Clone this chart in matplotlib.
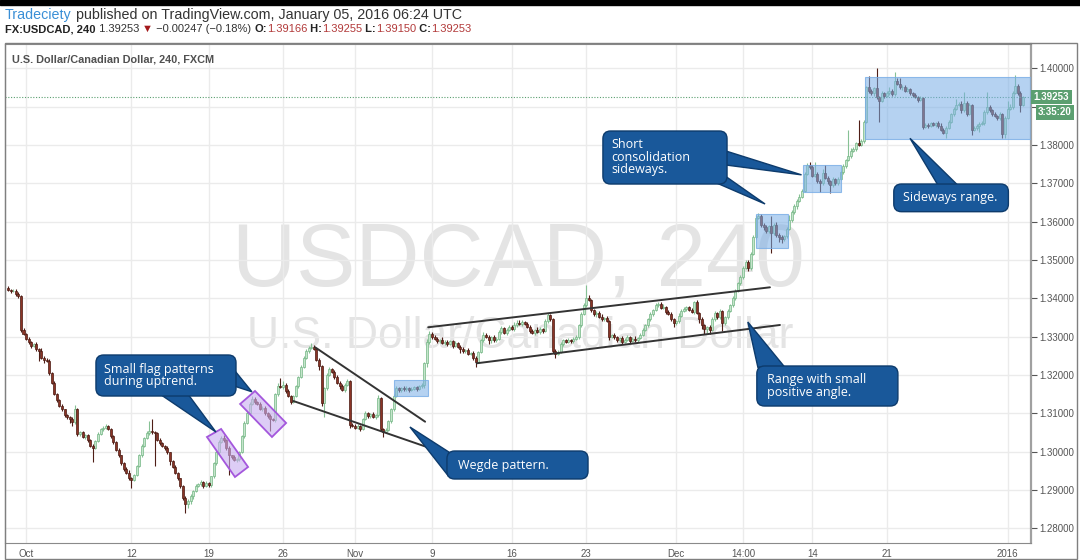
import numpy as np
import matplotlib
matplotlib.use("Agg")
import matplotlib.pyplot as plt
from matplotlib.patches import Polygon, Rectangle, FancyBboxPatch
from matplotlib.ticker import FuncFormatter

# USDCAD 4h candles, Oct 1 2015 - Jan 5 2016 (FXCM)
# closes in 1/10000 above 1.0 (3425 -> 1.3425); open = previous close
first_open = 3428
closes = [
    3422, 3418, 3420, 3410, 3405, 3318, 3308, 3295, 3285, 3275, 3280, 3268, 3262, 3245, 3240, 3236, 3205, 3180, 3150, 3135,
    3120, 3110, 3095, 3090, 3085, 3078, 3112, 3045, 3050, 3038, 3042, 3030, 3015, 3010, 3028, 3045, 3058, 3062, 3066, 3060,
    3040, 3025, 3005, 2990, 2970, 2955, 2945, 2930, 2925, 2940, 2962, 2990, 3015, 3035, 3048, 3055, 3050, 3048, 3030, 3022,
    3015, 3010, 2998, 2975, 2960, 2945, 2930, 2910, 2880, 2862, 2870, 2885, 2898, 2910, 2915, 2920, 2910, 2918, 2912, 2935,
    2970, 3000, 3025, 3035, 3030, 3010, 2990, 2985, 2978, 2980, 3000, 3040, 3075, 3100, 3125, 3138, 3130, 3125, 3112, 3115,
    3100, 3092, 3085, 3082, 3150, 3172, 3168, 3175, 3158, 3145, 3130, 3145, 3170, 3195, 3220, 3245, 3262, 3270, 3274, 3268,
    3240, 3222, 3128, 3165, 3200, 3215, 3208, 3195, 3180, 3170, 3160, 3175, 3185, 3070, 3068, 3062, 3066, 3060, 3085, 3100,
    3092, 3098, 3090, 3095, 3140, 3058, 3052, 3056, 3080, 3110, 3145, 3165, 3160, 3165, 3162, 3166, 3160, 3164, 3168, 3163,
    3170, 3175, 3230, 3285, 3308, 3300, 3295, 3288, 3292, 3283, 3286, 3280, 3288, 3276, 3282, 3272, 3268, 3262, 3265, 3255,
    3258, 3245, 3235, 3260, 3290, 3305, 3300, 3292, 3298, 3290, 3295, 3312, 3322, 3310, 3318, 3325, 3320, 3330, 3336, 3332,
    3338, 3334, 3325, 3315, 3310, 3318, 3312, 3320, 3315, 3340, 3356, 3345, 3262, 3255, 3260, 3280, 3290, 3286, 3292, 3288,
    3295, 3298, 3330, 3360, 3382, 3400, 3395, 3370, 3358, 3362, 3352, 3345, 3348, 3340, 3300, 3305, 3298, 3290, 3296, 3285,
    3292, 3298, 3288, 3295, 3290, 3296, 3305, 3318, 3330, 3345, 3358, 3370, 3382, 3385, 3375, 3378, 3365, 3360, 3345, 3335,
    3340, 3355, 3368, 3372, 3376, 3370, 3365, 3390, 3362, 3345, 3330, 3320, 3325, 3318, 3345, 3362, 3350, 3366, 3335, 3350,
    3368, 3382, 3400, 3420, 3440, 3455, 3480, 3495, 3478, 3515, 3560, 3610, 3615, 3590, 3585, 3575, 3588, 3570, 3592, 3565,
    3560, 3555, 3562, 3580, 3605, 3625, 3640, 3655, 3665, 3680, 3725, 3748, 3742, 3720, 3725, 3705, 3700, 3728, 3715, 3705,
    3695, 3710, 3700, 3712, 3730, 3745, 3760, 3770, 3785, 3790, 3805, 3800, 3810, 3860, 3950, 3940, 3935, 3948, 3925, 3915,
    3935, 3928, 3935, 3940, 3932, 3968, 3960, 3950, 3952, 3942, 3945, 3935, 3930, 3925, 3918, 3922, 3848, 3852, 3850, 3856,
    3853, 3858, 3850, 3840, 3832, 3845, 3860, 3880, 3895, 3905, 3908, 3890, 3910, 3880, 3905, 3840, 3845, 3850, 3855, 3858,
    3885, 3900, 3890, 3882, 3875, 3870, 3880, 3828, 3870, 3895, 3900, 3935, 3955, 3935, 3905, 3925,
]
# wick length beyond the body, same units
wick_hi = [
    4, 3, 5, 3, 6, 3, 4, 2, 5, 3, 4, 6, 3, 8, 4, 3, 5, 2, 4, 3,
    3, 5, 2, 4, 3, 6, 10, 2, 5, 3, 4, 3, 4, 4, 3, 5, 4, 6, 6, 3,
    2, 4, 3, 5, 2, 3, 4, 6, 3, 2, 3, 4, 5, 3, 6, 25, 30, 4, 3, 5,
    4, 3, 5, 2, 3, 4, 3, 2, 4, 3, 5, 4, 3, 6, 4, 5, 3, 4, 3, 2,
    3, 4, 5, 6, 8, 3, 4, 2, 5, 3, 2, 3, 4, 5, 5, 6, 4, 3, 5, 4,
    3, 4, 5, 2, 4, 6, 20, 10, 3, 4, 2, 3, 4, 3, 5, 4, 6, 5, 8, 4,
    3, 4, 5, 4, 6, 6, 3, 4, 5, 3, 6, 4, 5, 3, 4, 3, 5, 4, 3, 5,
    4, 3, 5, 4, 8, 3, 4, 5, 3, 4, 5, 5, 4, 3, 6, 4, 3, 5, 4, 3,
    5, 4, 4, 10, 6, 3, 5, 4, 3, 6, 4, 5, 3, 4, 6, 3, 5, 4, 3, 4,
    3, 5, 4, 3, 4, 6, 5, 4, 3, 5, 4, 6, 5, 3, 4, 5, 6, 8, 7, 8,
    6, 4, 3, 5, 4, 3, 6, 4, 3, 5, 5, 4, 3, 6, 4, 5, 3, 4, 5, 3,
    4, 5, 3, 4, 6, 35, 8, 4, 3, 5, 4, 6, 3, 5, 4, 3, 5, 4, 3, 6,
    4, 5, 3, 4, 6, 3, 4, 5, 3, 4, 5, 3, 6, 4, 5, 6, 3, 4, 5, 3,
    4, 6, 5, 6, 4, 3, 5, 4, 6, 3, 5, 4, 3, 6, 5, 4, 3, 6, 4, 5,
    3, 4, 5, 4, 3, 6, 5, 4, 6, 5, 4, 8, 8, 4, 6, 5, 4, 27, 5, 6,
    4, 5, 3, 6, 12, 4, 5, 3, 6, 4, 5, 6, 8, 5, 30, 4, 6, 10, 20, 5,
    4, 6, 5, 4, 3, 5, 4, 70, 6, 5, 4, 60, 5, 6, 5, 30, 6, 4, 52, 3,
    5, 4, 6, 10, 5, 22, 6, 15, 4, 5, 5, 3, 4, 6, 4, 5, 3, 4, 5, 4,
    5, 3, 4, 6, 3, 4, 5, 4, 5, 15, 4, 6, 28, 4, 5, 3, 4, 5, 6, 4,
    5, 38, 4, 5, 3, 4, 6, 3, 5, 20, 6, 5, 27, 4, 5, 3,
]
wick_lo = [
    3, 4, 2, 5, 3, 6, 4, 3, 5, 4, 3, 5, 25, 4, 8, 3, 5, 4, 3, 5,
    4, 3, 5, 4, 10, 10, 5, 5, 5, 3, 4, 5, 4, 37, 3, 4, 3, 5, 4, 3,
    5, 4, 3, 5, 4, 6, 3, 4, 20, 3, 4, 3, 5, 4, 3, 5, 4, 85, 3, 4,
    4, 5, 3, 10, 4, 3, 5, 4, 6, 22, 10, 8, 10, 4, 3, 5, 4, 3, 5, 4,
    3, 4, 5, 3, 4, 5, 50, 4, 3, 5, 4, 3, 5, 4, 3, 4, 5, 3, 4, 6,
    5, 4, 30, 3, 5, 4, 3, 5, 4, 3, 6, 4, 3, 5, 4, 3, 4, 5, 3, 4,
    4, 10, 10, 38, 5, 4, 3, 5, 4, 6, 3, 4, 5, 8, 5, 4, 3, 5, 4, 3,
    5, 4, 3, 5, 5, 5, 15, 4, 3, 5, 4, 3, 5, 4, 3, 5, 4, 3, 4, 5,
    3, 4, 10, 10, 4, 5, 3, 4, 6, 3, 5, 4, 3, 5, 4, 3, 10, 4, 5, 3,
    4, 5, 15, 4, 3, 5, 4, 12, 10, 3, 4, 5, 4, 3, 5, 4, 3, 5, 4, 3,
    5, 4, 3, 5, 4, 6, 3, 4, 5, 3, 4, 3, 5, 12, 4, 3, 5, 4, 3, 5,
    4, 3, 5, 4, 3, 4, 3, 5, 4, 6, 3, 5, 4, 3, 10, 4, 5, 3, 4, 5,
    3, 4, 5, 3, 4, 5, 3, 4, 3, 5, 4, 3, 4, 5, 3, 4, 5, 3, 4, 10,
    5, 4, 3, 4, 5, 3, 4, 5, 3, 10, 10, 12, 10, 10, 4, 5, 3, 4, 20, 5,
    4, 3, 5, 4, 3, 5, 4, 3, 6, 4, 3, 5, 4, 5, 6, 4, 5, 52, 4, 5,
    12, 12, 5, 4, 3, 5, 4, 6, 5, 4, 3, 4, 5, 4, 3, 5, 22, 4, 5, 6,
    20, 4, 5, 4, 3, 5, 4, 3, 5, 4, 6, 3, 4, 5, 3, 4, 5, 6, 4, 55,
    4, 5, 3, 4, 5, 3, 4, 5, 6, 3, 4, 5, 4, 3, 5, 4, 6, 4, 5, 3,
    4, 5, 6, 3, 4, 15, 4, 3, 5, 4, 3, 6, 4, 5, 3, 15, 4, 5, 15, 4,
    5, 3, 4, 6, 3, 5, 4, 10, 11, 3, 4, 5, 3, 4, 20, 4,
]

# time axis: candle index where each label sits
tick_pos = [7, 48, 78, 107, 135, 165, 196, 225, 260, 286, 313, 342, 389]
tick_labels = ['Oct', '12', '19', '26', 'Nov', '9', '16', '23', 'Dec', '14:00', '14', '21', '2016']
price_ticks = [1.28, 1.29, 1.30, 1.31, 1.32, 1.33, 1.34, 1.35, 1.36, 1.37, 1.38, 1.39, 1.40]
last_price = 1.39253
countdown = '3:35:20'

W, H = 1080, 560
fig = plt.figure(figsize=(W / 100, H / 100), dpi=100)
ax = fig.add_axes([5 / W, 17 / H, 1026 / W, 499 / H])
fonts = ['Liberation Sans', 'DejaVu Sans']

c = 1 + np.array(closes) / 1e4
o = np.r_[1 + first_open / 1e4, c[:-1]]
hi = np.maximum(o, c) + np.array(wick_hi) / 1e4
lo = np.minimum(o, c) - np.array(wick_lo) / 1e4
x = np.arange(len(c))
up = c >= o
dn = ~up

ax.vlines(x[up], lo[up], hi[up], color='#86c194', lw=0.8, zorder=2)
ax.vlines(x[dn], lo[dn], hi[dn], color='#4f1e16', lw=0.8, zorder=2)
ax.bar(x[up], (c - o)[up], bottom=o[up], width=0.78, color='#c4e5cb', edgecolor='#74b685', lw=0.5, zorder=3)
ax.bar(x[dn], (c - o)[dn], bottom=o[dn], width=0.78, color='#8a3426', edgecolor='#4a1a12', lw=0.5, zorder=3)

ax.set_xlim(-1.2, 398.1)
ax.set_ylim(1.27615, 1.40634)

ax.set_xticks(tick_pos)
ax.set_xticklabels(tick_labels)
ax.yaxis.tick_right()
ax.set_yticks(price_ticks)
ax.yaxis.set_major_formatter(FuncFormatter(lambda v, p: '' if abs(v - 1.39) < 1e-6 else '%.5f' % v))
ax.tick_params(axis='x', length=0, pad=4, labelsize=7, colors='#555555')
ax.tick_params(axis='y', length=4, pad=2, labelsize=7, colors='#555555')
for lab in ax.get_xticklabels() + ax.get_yticklabels():
    lab.set_family(fonts)
ax.grid(color='#ebebeb', lw=1)
ax.set_axisbelow(True)
for side in ['left', 'bottom', 'top']:
    ax.spines[side].set_color('#8a8a8a')
ax.spines['right'].set_color('#a0a0a0')
ax.spines['right'].set_linewidth(1.6)

# watermark
ax.text(0.5, 0.563, 'USDCAD, 240', transform=ax.transAxes, ha='center', va='center',
        fontsize=64, color='#e4e4e4', family=fonts, zorder=0)
ax.text(0.502, 0.413, 'U.S. Dollar/Canadian Dollar', transform=ax.transAxes, ha='center', va='center',
        fontsize=32, color='#e4e4e4', family=fonts, zorder=0)
ax.text(0.0068, 0.969, 'U.S. Dollar/Canadian Dollar, 240, FXCM', transform=ax.transAxes,
        ha='left', va='center', fontsize=7.8, color='#505050', fontweight='bold', family=fonts)

# last price line and labels
ax.axhline(last_price, color='#5b9f70', lw=0.8, ls=(0, (1, 1.5)), zorder=4)
ax.annotate('%.5f' % last_price, xy=(1.0, last_price), xycoords=('axes fraction', 'data'),
            xytext=(2, 0), textcoords='offset points', ha='left', va='center', fontsize=7,
            color='white', fontweight='bold', family=fonts, annotation_clip=False, zorder=10,
            bbox=dict(boxstyle='square,pad=0.25', fc='#5b9f70', ec='none'))
ax.annotate(countdown, xy=(1.0, last_price), xycoords=('axes fraction', 'data'),
            xytext=(5, -11), textcoords='offset points', ha='left', va='center', fontsize=7,
            color='white', fontweight='bold', family=fonts, annotation_clip=False, zorder=10,
            bbox=dict(boxstyle='square,pad=0.25', fc='#5b9f70', ec='none'))

# drawings: consolidation boxes
for x0, x1, p0, p1 in [(150.3, 163.6, 1.3144, 1.3186), (291.0, 303.6, 1.3530, 1.3621),
                       (309.2, 324.0, 1.3678, 1.3748), (333.5, 398.0, 1.3815, 1.3978)]:
    ax.add_patch(Rectangle((x0, p0), x1 - x0, p1 - p0, fc=(0.47, 0.68, 0.90, 0.55),
                           ec=(0.47, 0.68, 0.90, 0.8), lw=0.8, zorder=5))

# flag boxes
for verts in [[(77.4, 1.30381), (82.9, 1.30590), (93.4, 1.29598), (88.3, 1.29337)],
              [(90.3, 1.31242), (96.1, 1.31581), (108.2, 1.30746), (102.7, 1.30381)]]:
    ax.add_patch(Polygon(verts, closed=True, fc=(0.78, 0.68, 0.94, 0.6), ec='#a457dc', lw=1.3, zorder=5))

# trend lines (wedge and channel)
for (xa, pa), (xb, pb) in [((119.5, 1.32721), (162.3, 1.30780)), ((111.0, 1.31320), (163.3, 1.30112)),
                           ((163.5, 1.33243), (296.5, 1.34286)), ((182.4, 1.32304), (300.4, 1.33303))]:
    ax.plot([xa, xb], [pa, pb], color='#333333', lw=1.4, zorder=6, solid_capstyle='round')

# callouts: text, box (x, p, w, h), text anchor, pointers
callouts = [
    ('Small flag patterns\nduring uptrend.', (34.2, 1.3145, 54.5, 0.0107), (37.4, 1.3199),
     [[(59.1, 1.3150), (70.0, 1.3150), (80.9, 1.3051)], [(88.0, 1.3213), (88.0, 1.3171), (94.9, 1.3156)]]),
    ('Short\nconsolidation\nsideways.', (231.5, 1.36981, 48.3, 0.01383), (234.6, 1.37678),
     [[(279.0, 1.3785), (279.0, 1.3748), (308.8, 1.3722)], [(279.5, 1.3717), (276.0, 1.3700), (294.6, 1.3646)]]),
    ('Sideways range.', (344.7, 1.36259, 44.6, 0.00722), (348.1, 1.36634),
     [[(361.9, 1.3695), (369.6, 1.3695), (351.0, 1.38174)]]),
    ('Wegde pattern.', (170.8, 1.29285, 54.9, 0.0073), (175.1, 1.2965),
     [[(171.5, 1.2999), (171.5, 1.2935), (156.4, 1.30641)]]),
    ('Range with small\npositive angle.', (291.4, 1.31189, 54.9, 0.01044), (295.3, 1.31711),
     [[(291.8, 1.3220), (302.3, 1.3220), (287.9, 1.33381)]]),
]
aspect = (1026 / 399.3) / (499 / (1.40634 - 1.27615))
for txt, (bx, bp, bw, bh), (tx, tp), pointers in callouts:
    for tri in pointers:
        ax.add_patch(Polygon(tri, closed=True, fc='#19589a', ec='#0d3b6c', lw=1.0, zorder=7))
    ax.add_patch(FancyBboxPatch((bx, bp), bw, bh, boxstyle='round,pad=0,rounding_size=3',
                                mutation_aspect=aspect, fc='#19589a', ec='#0d3b6c', lw=1.0, zorder=8))
    ax.text(tx, tp, txt, ha='left', va='center', color='white', fontsize=9, family=['Open Sans', 'DejaVu Sans'],
            linespacing=0.95, zorder=9)

# header
fig.patches.append(Rectangle((0, 1 - 5 / H), 1, 5 / H, color='black', transform=fig.transFigure))
fig.patches.append(Rectangle((5 / W, 1 - 559 / H), 1072 / W, 516 / H, fill=False, ec='#7f7f7f', lw=1,
                             transform=fig.transFigure))
renderer = fig.canvas.get_renderer()


def text_run(x_px, y_px, parts, size):
    for s, color, weight in parts:
        t = fig.text(x_px / W, 1 - y_px / H, s, color=color, fontsize=size, fontweight=weight,
                     va='center', ha='left', family=fonts)
        x_px += t.get_window_extent(renderer=renderer).width


text_run(5, 15.5, [('Tradeciety', '#3a8fd6', 'normal'),
                   (' published on TradingView.com, January 05, 2016 06:24 UTC', '#333333', 'normal')], 10.3)
red = '#b23a3a'
text_run(5, 29, [('FX:USDCAD, 240', '#222222', 'bold'), (' 1.39253 ', '#333333', 'normal'),
                 ('\u25bc', '#a3191b', 'normal'), (' \u22120.00247 (\u22120.18%) ', '#333333', 'normal'),
                 ('O:', '#222222', 'bold'), ('1.39166', red, 'normal'), (' H:', '#222222', 'bold'),
                 ('1.39255', red, 'normal'), (' L:', '#222222', 'bold'), ('1.39150', red, 'normal'),
                 (' C:', '#222222', 'bold'), ('1.39253', red, 'normal')], 8.0)

fig.savefig('out.png', dpi=100)
